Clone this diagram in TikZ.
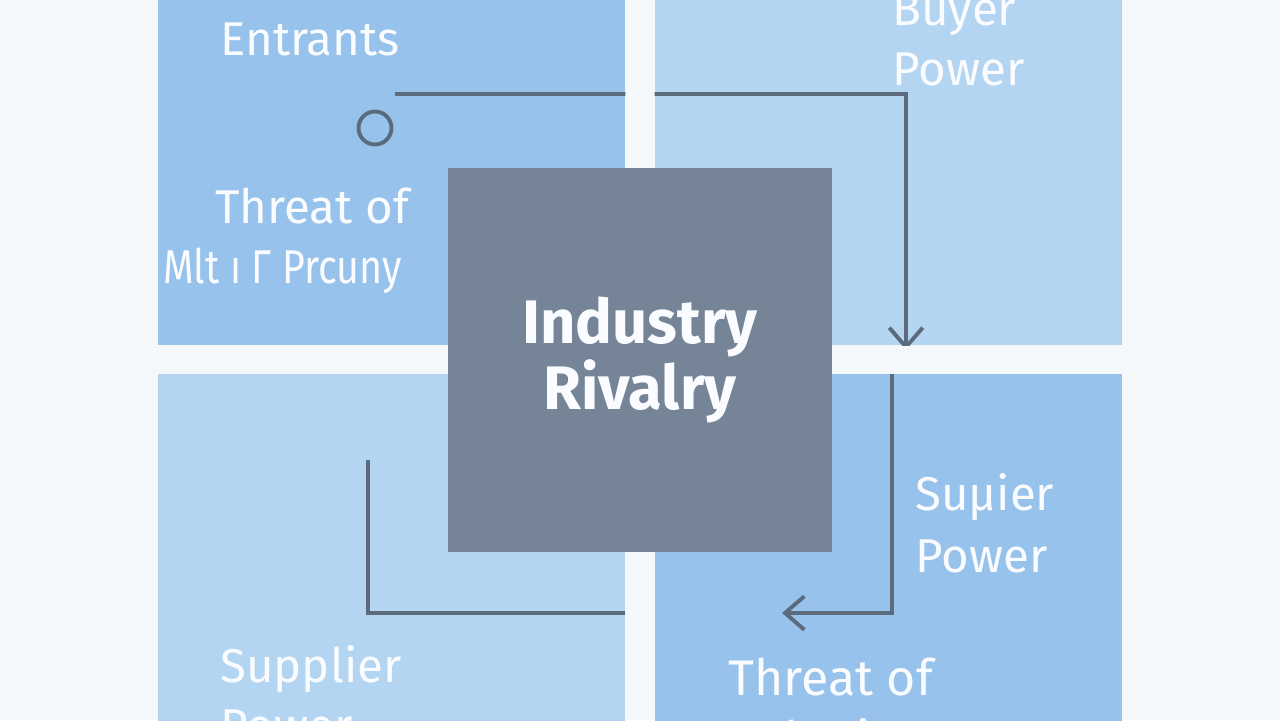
\documentclass[tikz,border=0pt]{standalone}
\usepackage{graphicx}
\usepackage{fontspec}
\setmainfont{Fira Sans}
\usetikzlibrary{arrows.meta}
\definecolor{page_white}{RGB}{245,248,251}
\definecolor{quad_blue}{RGB}{150,194,236}
\definecolor{quad_light}{RGB}{180,213,241}
\definecolor{core_gray}{RGB}{117,133,151}
\definecolor{line_gray}{RGB}{91,107,124}
\definecolor{text_white}{RGB}{250,252,255}

\begin{document}
\begin{tikzpicture}[x=0.02cm,y=-0.02cm,>={Straight Barb[length=11pt,width=19pt]}]
    \tikzstyle{quad}=[draw=none, rectangle, inner sep=0, minimum width=9.34cm, minimum height=7.12cm]
    \tikzstyle{qtext}=[anchor=base west, inner sep=0, text=text_white, font=\fontsize{27}{30}\selectfont]
    \tikzstyle{core}=[draw=none, rectangle, fill=core_gray, inner sep=0, minimum size=7.68cm, text=text_white, align=center, font=\bfseries\fontsize{35}{32.5}\selectfont]
    \tikzstyle{link}=[draw=line_gray, line width=2.2pt]

    \useasboundingbox (0,0) rectangle (1280,720);
    \fill[page_white] (0,0) rectangle (1280,720);

    % four quadrants
    \node[quad, fill=quad_blue]  (tl) at (391.5,167.5) {};
    \node[quad, fill=quad_light] (tr) at (888.5,167.5) {};
    \node[quad, fill=quad_light] (bl) at (391.5,552)   {};
    \node[quad, fill=quad_blue]  (br) at (888.5,552)   {};

    % connectors, hidden in the gaps
    \coordinate (top_start) at (395,94);
    \coordinate (top_end)   at (906,350);
    \coordinate (sup_start) at (892,374);
    \coordinate (sup_end)   at (782,613);
    \coordinate (bl_start)  at (368,460);
    \coordinate (bl_end)    at (625,613);
    \begin{scope}
      \clip (tl.south west) rectangle (tl.north east)
            (tr.south west) rectangle (tr.north east)
            (bl.south west) rectangle (bl.north east)
            (br.south west) rectangle (br.north east);
      \draw[link,->] (top_start) -| (top_end);
    \end{scope}
    \draw[link,->] (sup_start) |- (sup_end);
    \draw[link] (bl_start) |- (bl_end);
    \node[draw=line_gray, line width=2.2pt, circle, inner sep=0, minimum size=0.66cm] (dot) at (375,128) {};

    % labels
    \node[qtext] (ent)    at (220,55)  {Entrants};
    \node[qtext] (thr_tl) at (215,223) {Threat of};
    \node[qtext] (new_tl) at (163,283) {\scalebox{0.83}[1]{Mlt ı Γ Prcuny}};
    \node[qtext] (buy)    at (892,25)  {Buyer};
    \node[qtext] (pow_tr) at (892,85)  {Power};
    \node[qtext] (sup_bl) at (220,682) {Supplier};
    \node[qtext] (pow_bl) at (220,742) {Power};
    \node[qtext] (sup_br) at (915,510) {Suµier};
    \node[qtext] (pow_br) at (915,572) {Power};
    \node[qtext, font=\fontsize{28.5}{30}\selectfont] (thr_br) at (728,695) {Threat of};
    \node[qtext, font=\fontsize{28.5}{30}\selectfont] (sub_br) at (728,757) {Substitutes};

    % centre
    \node[core] (rivalry) at (640,360) {Industry\\Rivalry};
  \end{tikzpicture}
\end{document}
